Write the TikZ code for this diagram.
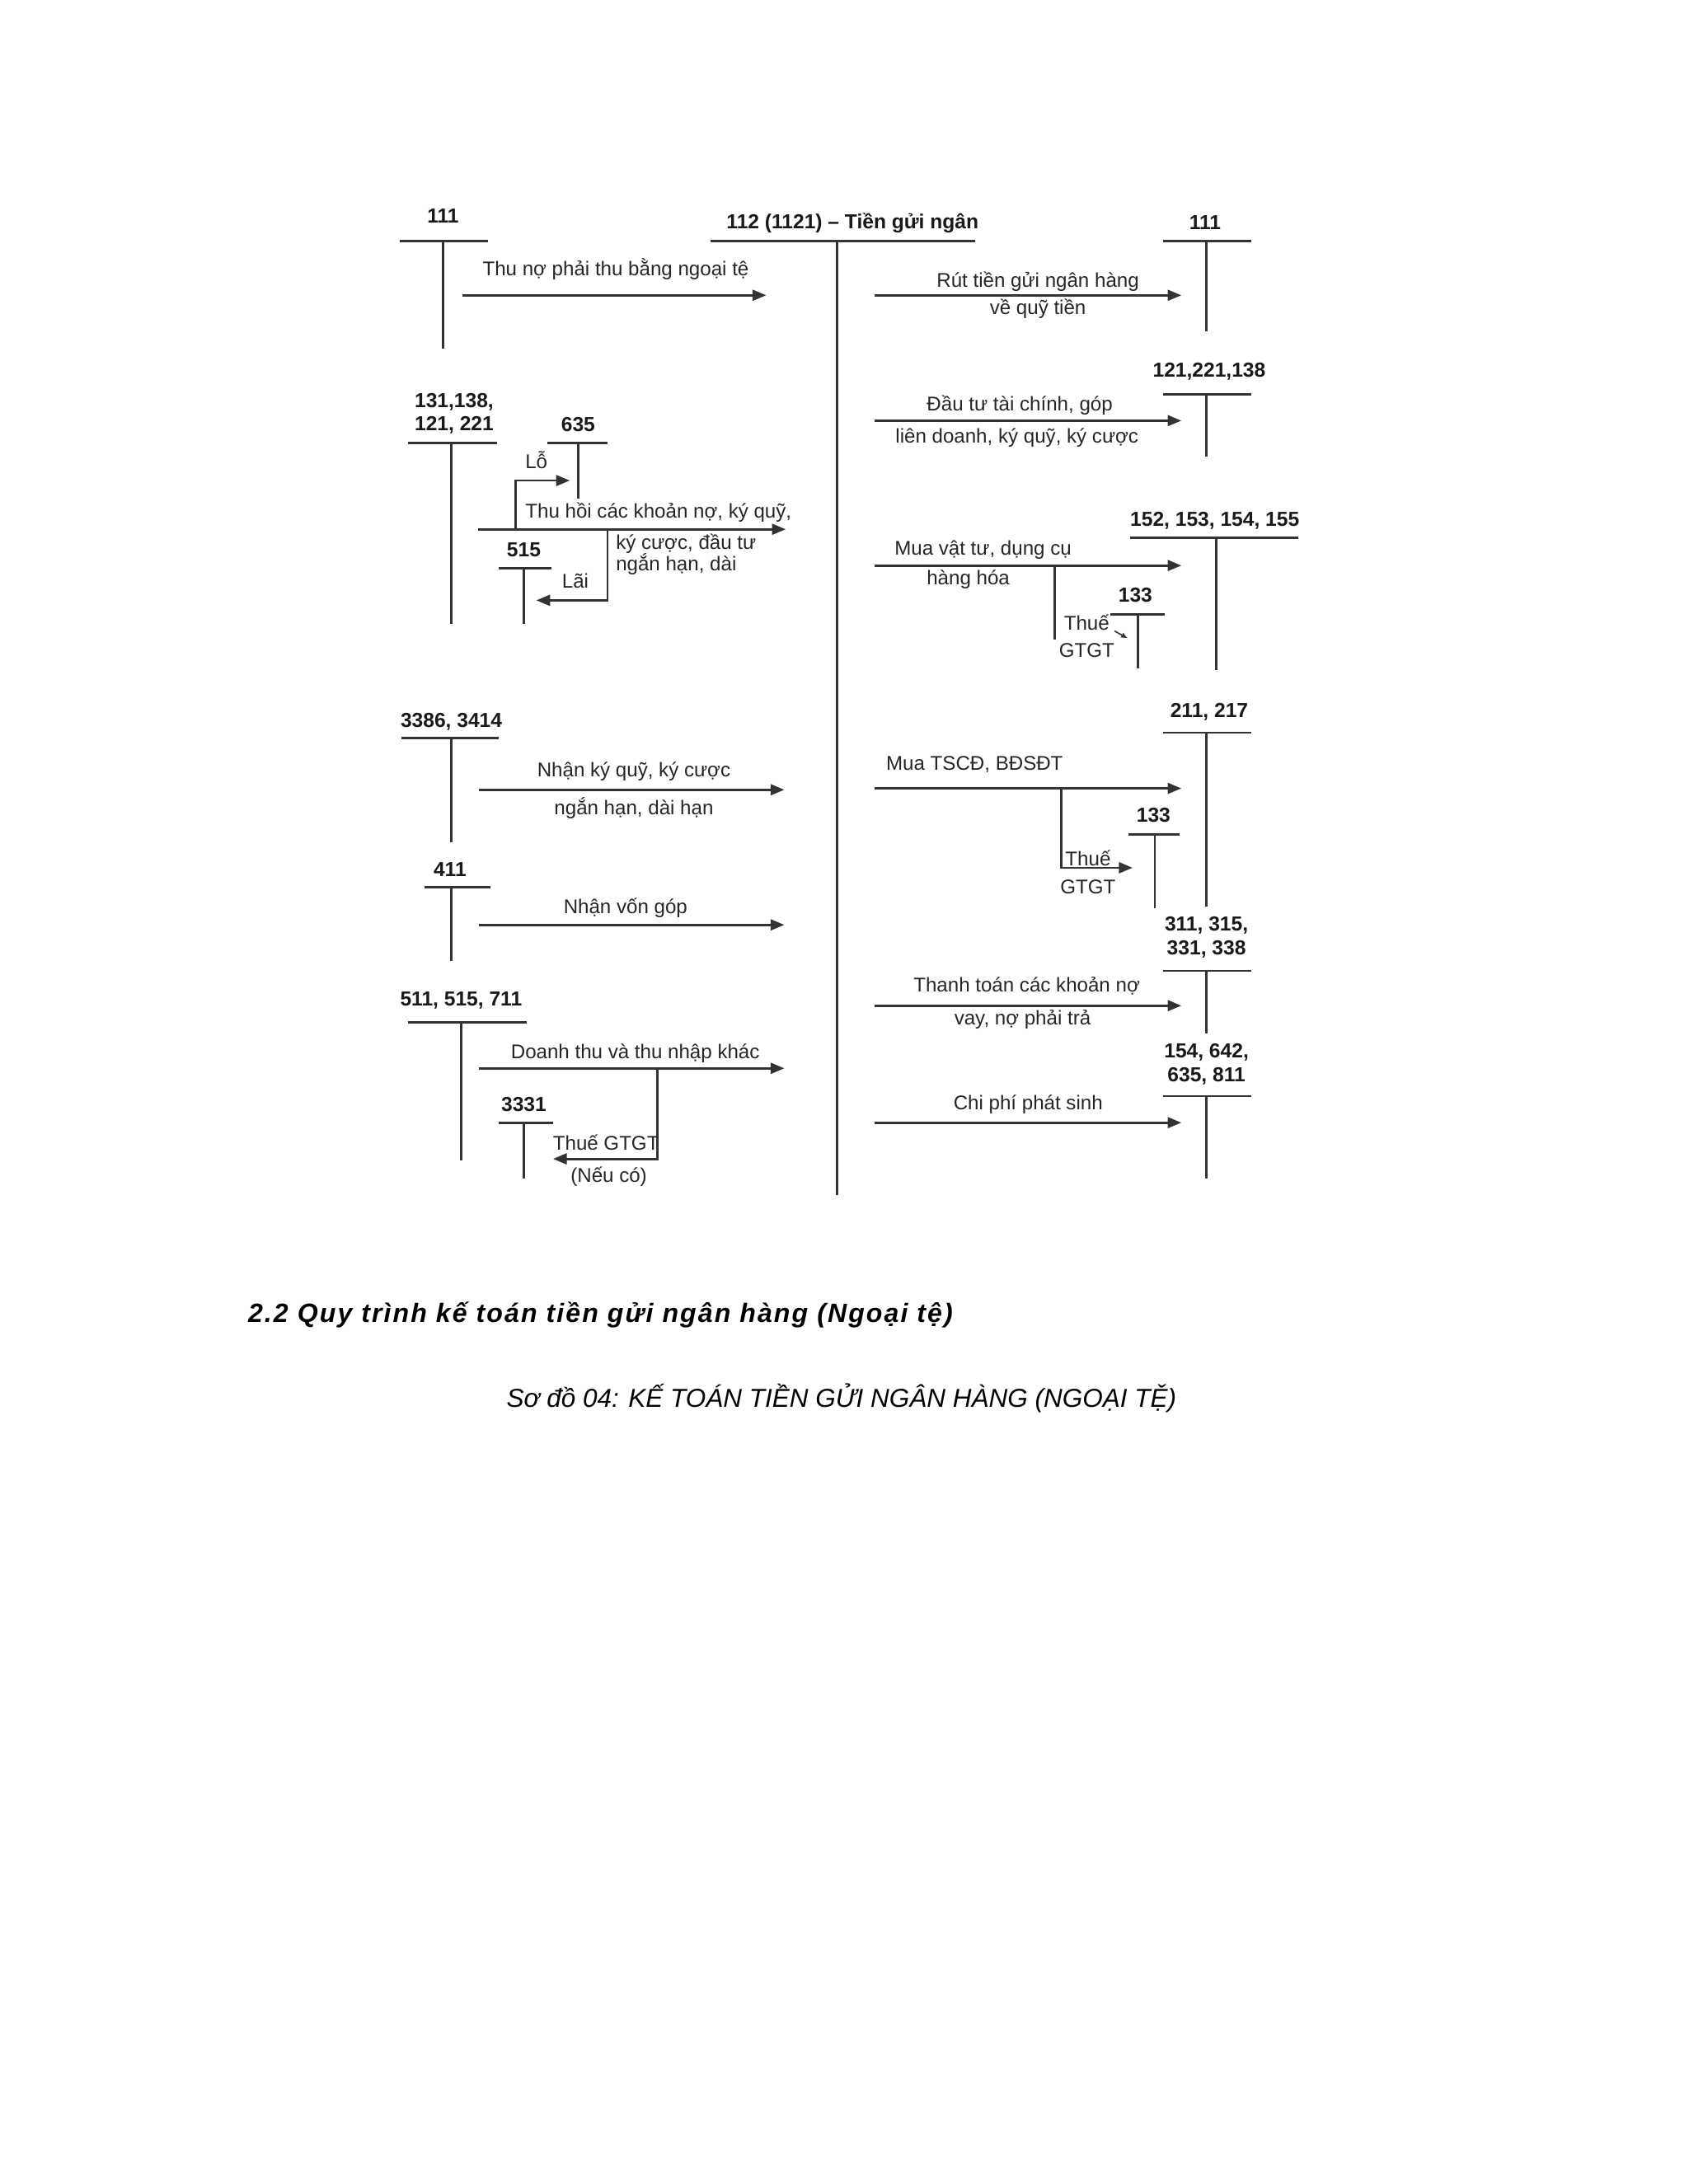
\documentclass[tikz,border=0pt]{standalone}
\usepackage{fontspec}
\setmainfont{Liberation Sans}
\usetikzlibrary{arrows.meta}
\begin{document}
\begin{tikzpicture}[x=0.05cm,y=-0.05cm,
  ln/.style={line width=2.3pt, draw=black!80},
  arr/.style={ln,-{Triangle[length=14pt,width=11pt]}},
  lbl/.style={font=\fontsize{20.7}{24}\selectfont\bfseries, inner sep=0pt, align=center, text=black!90},
  txt/.style={font=\fontsize{20.3}{22}\selectfont, inner sep=0pt, align=center, text=black!85},
  txl/.style={txt, anchor=west},
]
\useasboundingbox (0,0) rectangle (1212,1568);
\fill[white] (0,0) rectangle (1212,1568);

% ---------- main account 112 ----------
\node[lbl] (m) at (612,160) {112 (1121) -- Tiền gửi ngân};
\draw[ln] (510,173) -- (700,173);
\draw[ln, line width=2.6pt] (601,173) coordinate (mtop) -- (601,858) coordinate (mbot);

% ---------- left T accounts ----------
\node[lbl] (l111) at (318,155) {111};
\draw[ln] (287,173) -- (350,173);
\draw[ln] (318,173) -- (318,250);

\node[lbl] (l131) at (326,297) {131,138,\\121, 221};
\draw[ln] (293,318) -- (357,318);
\draw[ln] (324,318) -- (324,448);

\node[lbl] (l635) at (415,305) {635};
\draw[ln] (393,318) -- (436,318);
\draw[ln] (415,318) -- (415,358);

\node[lbl] (l515) at (376,395) {515};
\draw[ln] (358,408) -- (396,408);
\draw[ln] (376,408) -- (376,448);

\node[lbl] (l3386) at (324,518) {3386, 3414};
\draw[ln] (288,530) -- (358,530);
\draw[ln] (324,530) -- (324,605);

\node[lbl] (l411) at (323,624) {411};
\draw[ln] (305,637) -- (352,637);
\draw[ln] (324,637) -- (324,690);

\node[lbl] (l511) at (331,718) {511, 515, 711};
\draw[ln] (293,734) -- (378,734);
\draw[ln] (331,734) -- (331,833);

\node[lbl] (l3331) at (376,793) {3331};
\draw[ln] (358,806) -- (397,806);
\draw[ln] (376,806) -- (376,846);

% ---------- right T accounts ----------
\node[lbl] (r111) at (865,160) {111};
\draw[ln] (835,173) -- (898,173);
\draw[ln] (866,173) -- (866,238);

\node[lbl] (r121) at (868,267) {121,221,138};
\draw[ln] (835,283) -- (898,283);
\draw[ln] (866,283) -- (866,328);

\node[lbl] (r152) at (872,374) {152, 153, 154, 155};
\draw[ln] (811,386) -- (932,386);
\draw[ln] (873,386) -- (873,481);

\node[lbl] (r133a) at (815,427) {133};
\draw[ln] (797,441) -- (836,441);
\draw[ln] (817,441) -- (817,480);

\node[lbl] (r211) at (868,511) {211, 217};
\draw[ln] (835,526) -- (898,526);
\draw[ln] (866,526) -- (866,651);

\node[lbl] (r133b) at (828,585) {133};
\draw[ln] (810,599) -- (847,599);
\draw[ln] (829,599) -- (829,652);

\node[lbl] (r311) at (866,673) {311, 315,\\331, 338};
\draw[ln] (835,697) -- (898,697);
\draw[ln] (866,697) -- (866,742);

\node[lbl] (r154) at (866,764) {154, 642,\\635, 811};
\draw[ln] (835,787) -- (898,787);
\draw[ln] (866,787) -- (866,846);

% ---------- left arrows ----------
\coordinate (a1s) at (332,212); \coordinate (a1e) at (550,212);
\draw[arr] (a1s) -- (a1e);
\node[txt] (t1) at (442,193) {Thu nợ phải thu bằng ngoại tệ};

\coordinate (a2s) at (343,380); \coordinate (a2e) at (564,380);
\draw[arr] (a2s) -- (a2e);
\node[txl] (t2) at (377,368) {Thu hồi các khoản nợ, ký quỹ,};
\node[txt, anchor=north west, align=left] (t2b) at (442,383) {ký cược, đầu tư\\ngắn hạn, dài};
\coordinate (lo1) at (370,380); \coordinate (lo2) at (409,345);
\draw[arr] (lo1) |- (lo2);
\node[txt] (tlo) at (385,330) {Lỗ};
\coordinate (la1) at (436,380); \coordinate (la2) at (385,431);
\draw[arr] (la1) |- (la2);
\node[txt] (tla) at (413,417) {Lãi};

\coordinate (a3s) at (344,567); \coordinate (a3e) at (563,567);
\draw[arr] (a3s) -- (a3e);
\node[txt] (t3a) at (455,554) {Nhận ký quỹ, ký cược};
\node[txt] (t3b) at (455,580) {ngắn hạn, dài hạn};

\coordinate (a4s) at (344,664); \coordinate (a4e) at (563,664);
\draw[arr] (a4s) -- (a4e);
\node[txt] (t4) at (449,652) {Nhận vốn góp};

\coordinate (a5s) at (344,767); \coordinate (a5e) at (563,767);
\draw[arr] (a5s) -- (a5e);
\node[txt] (t5) at (456,756) {Doanh thu và thu nhập khác};
\coordinate (g1) at (472,767); \coordinate (g2) at (397,832);
\draw[arr] (g1) |- (g2);
\node[txt] (t5b) at (435,820) {Thuế GTGT};
\node[txt] (t5c) at (437,845) {(Nếu có)};

% ---------- right arrows ----------
\coordinate (b1s) at (628,212); \coordinate (b1e) at (848,212);
\draw[arr] (b1s) -- (b1e);
\node[txt] (u1a) at (745,202) {Rút tiền gửi ngân hàng};
\node[txt] (u1b) at (745,222) {về quỹ tiền};

\coordinate (b2s) at (628,302); \coordinate (b2e) at (848,302);
\draw[arr] (b2s) -- (b2e);
\node[txt] (u2a) at (732,291) {Đầu tư tài chính, góp};
\node[txt] (u2b) at (730,314) {liên doanh, ký quỹ, ký cược};

\coordinate (b3s) at (628,406); \coordinate (b3e) at (848,406);
\draw[arr] (b3s) -- (b3e);
\node[txl] (u3a) at (642,395) {Mua vật tư, dụng cụ};
\node[txt] (u3b) at (695,416) {hàng hóa};
\coordinate (v1) at (757,406); \coordinate (v2) at (757,459);
\draw[ln] (v1) -- (v2);
\coordinate (v3) at (800,453); \coordinate (v4) at (809,458);
\draw[ln, line width=1.4pt, -{Triangle[length=6pt,width=5pt]}] (v3) -- (v4);
\node[txt] (u3c) at (780,447) {Thuế};
\node[txt] (u3d) at (780,467) {GTGT};

\coordinate (b4s) at (628,566); \coordinate (b4e) at (848,566);
\draw[arr] (b4s) -- (b4e);
\node[txl] (u4a) at (636,549) {Mua TSCĐ, BĐSĐT};
\coordinate (w1) at (762,566); \coordinate (w2) at (813,623);
\draw[arr] (w1) |- (w2);
\node[txt] (u4b) at (781,616) {Thuế};
\node[txt] (u4c) at (781,637) {GTGT};

\coordinate (b5s) at (628,722); \coordinate (b5e) at (848,722);
\draw[arr] (b5s) -- (b5e);
\node[txt] (u5a) at (737,708) {Thanh toán các khoản nợ};
\node[txt] (u5b) at (734,732) {vay, nợ phải trả};

\coordinate (b6s) at (628,806); \coordinate (b6e) at (848,806);
\draw[arr] (b6s) -- (b6e);
\node[txt] (u6) at (738,793) {Chi phí phát sinh};

% ---------- headings ----------
\node[anchor=west, inner sep=0pt, font=\fontsize{27}{32}\selectfont\bfseries\itshape\addfontfeature{LetterSpace=6.5}] (h1) at (178,944)
  {2.2 Quy trình kế toán tiền gửi ngân hàng (Ngoại tệ)};
\node[inner sep=0pt, font=\fontsize{26.5}{32}\selectfont\itshape] (h2) at (604,1004)
  {Sơ đồ 04: KẾ TOÁN TIỀN GỬI NGÂN HÀNG (NGOẠI TỆ)};
\end{tikzpicture}
\end{document}
